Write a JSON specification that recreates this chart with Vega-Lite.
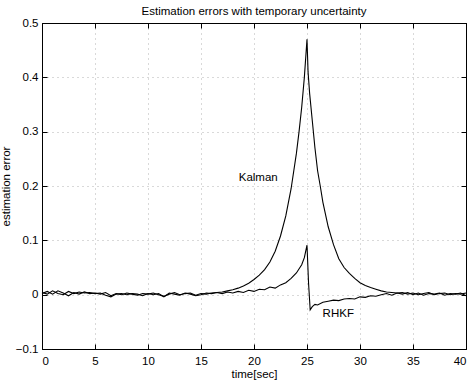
{
  "$schema": "https://vega.github.io/schema/vega-lite/v6.json",
  "autosize": "none",
  "width": 424,
  "height": 326,
  "padding": {"left": 42, "top": 23, "right": 8, "bottom": 32},
  "background": "white",
  "config": {
    "view": {"stroke": "black", "strokeWidth": 1},
    "font": "Liberation Sans",
    "axis": {
      "domainColor": "black",
      "tickColor": "black",
      "tickSize": -5,
      "labelColor": "black",
      "labelFontSize": 11.5,
      "labelFont": "Liberation Sans",
      "titleFont": "Liberation Sans",
      "titleFontSize": 11.5,
      "titleFontWeight": "normal",
      "titleColor": "black",
      "gridColor": "#a0a0a0",
      "gridDash": [1, 4],
      "gridWidth": 0.8
    },
    "title": {"font": "Liberation Sans", "fontSize": 11.5, "fontWeight": "normal", "color": "black"}
  },
  "title": {"text": "Estimation errors with temporary uncertainty", "offset": 0},
  "datasets": {
    "series": [
      {"t":0,"v":0.002,"s":"Kalman"},{"t":0.5,"v":0.006,"s":"Kalman"},{"t":1,"v":0.001,"s":"Kalman"},{"t":1.5,"v":0.007,"s":"Kalman"},{"t":2,"v":0.003,"s":"Kalman"},{"t":2.5,"v":-0.002,"s":"Kalman"},{"t":3,"v":0.004,"s":"Kalman"},{"t":3.5,"v":0.001,"s":"Kalman"},{"t":4,"v":0.005,"s":"Kalman"},{"t":4.5,"v":0.002,"s":"Kalman"},{"t":5,"v":0.003,"s":"Kalman"},{"t":5.5,"v":0.001,"s":"Kalman"},{"t":6,"v":0.004,"s":"Kalman"},{"t":6.5,"v":-0.002,"s":"Kalman"},{"t":7,"v":0.002,"s":"Kalman"},{"t":7.5,"v":0.0,"s":"Kalman"},{"t":8,"v":0.003,"s":"Kalman"},{"t":8.5,"v":0.001,"s":"Kalman"},{"t":9,"v":-0.001,"s":"Kalman"},{"t":9.5,"v":0.002,"s":"Kalman"},{"t":10,"v":0.001,"s":"Kalman"},{"t":10.5,"v":0.003,"s":"Kalman"},{"t":11,"v":0.0,"s":"Kalman"},{"t":11.5,"v":-0.003,"s":"Kalman"},{"t":12,"v":0.001,"s":"Kalman"},{"t":12.5,"v":0.004,"s":"Kalman"},{"t":13,"v":0.0,"s":"Kalman"},{"t":13.5,"v":0.002,"s":"Kalman"},{"t":14,"v":0.003,"s":"Kalman"},{"t":14.5,"v":-0.001,"s":"Kalman"},{"t":15,"v":0.002,"s":"Kalman"},{"t":15.5,"v":0.001,"s":"Kalman"},{"t":16,"v":0.003,"s":"Kalman"},{"t":16.5,"v":0.004,"s":"Kalman"},{"t":17,"v":0.005,"s":"Kalman"},{"t":17.5,"v":0.007,"s":"Kalman"},{"t":18,"v":0.009,"s":"Kalman"},{"t":18.5,"v":0.012,"s":"Kalman"},{"t":19,"v":0.016,"s":"Kalman"},{"t":19.5,"v":0.021,"s":"Kalman"},{"t":20,"v":0.028,"s":"Kalman"},{"t":20.5,"v":0.036,"s":"Kalman"},{"t":21,"v":0.046,"s":"Kalman"},{"t":21.5,"v":0.06,"s":"Kalman"},{"t":22,"v":0.08,"s":"Kalman"},{"t":22.5,"v":0.108,"s":"Kalman"},{"t":23,"v":0.145,"s":"Kalman"},{"t":23.5,"v":0.195,"s":"Kalman"},{"t":24,"v":0.26,"s":"Kalman"},{"t":24.25,"v":0.3,"s":"Kalman"},{"t":24.5,"v":0.345,"s":"Kalman"},{"t":24.75,"v":0.4,"s":"Kalman"},{"t":25,"v":0.47,"s":"Kalman"},{"t":25.1,"v":0.41,"s":"Kalman"},{"t":25.25,"v":0.37,"s":"Kalman"},{"t":25.5,"v":0.32,"s":"Kalman"},{"t":25.75,"v":0.27,"s":"Kalman"},{"t":26,"v":0.228,"s":"Kalman"},{"t":26.25,"v":0.2,"s":"Kalman"},{"t":26.5,"v":0.17,"s":"Kalman"},{"t":27,"v":0.125,"s":"Kalman"},{"t":27.5,"v":0.092,"s":"Kalman"},{"t":28,"v":0.066,"s":"Kalman"},{"t":28.5,"v":0.05,"s":"Kalman"},{"t":29,"v":0.039,"s":"Kalman"},{"t":29.5,"v":0.03,"s":"Kalman"},{"t":30,"v":0.022,"s":"Kalman"},{"t":30.5,"v":0.017,"s":"Kalman"},{"t":31,"v":0.013,"s":"Kalman"},{"t":31.5,"v":0.01,"s":"Kalman"},{"t":32,"v":0.007,"s":"Kalman"},{"t":32.5,"v":0.005,"s":"Kalman"},{"t":33,"v":0.004,"s":"Kalman"},{"t":33.5,"v":0.003,"s":"Kalman"},{"t":34,"v":0.004,"s":"Kalman"},{"t":34.5,"v":0.001,"s":"Kalman"},{"t":35,"v":0.003,"s":"Kalman"},{"t":35.5,"v":0.0,"s":"Kalman"},{"t":36,"v":0.002,"s":"Kalman"},{"t":36.5,"v":0.004,"s":"Kalman"},{"t":37,"v":0.0,"s":"Kalman"},{"t":37.5,"v":0.002,"s":"Kalman"},{"t":38,"v":0.003,"s":"Kalman"},{"t":38.5,"v":0.0,"s":"Kalman"},{"t":39,"v":0.002,"s":"Kalman"},{"t":39.5,"v":0.001,"s":"Kalman"},{"t":40,"v":0.003,"s":"Kalman"},
      {"t":0,"v":0.004,"s":"RHKF"},{"t":0.5,"v":0.001,"s":"RHKF"},{"t":1,"v":0.007,"s":"RHKF"},{"t":1.5,"v":0.002,"s":"RHKF"},{"t":2,"v":0.0,"s":"RHKF"},{"t":2.5,"v":0.006,"s":"RHKF"},{"t":3,"v":0.002,"s":"RHKF"},{"t":3.5,"v":0.005,"s":"RHKF"},{"t":4,"v":0.003,"s":"RHKF"},{"t":4.5,"v":0.004,"s":"RHKF"},{"t":5,"v":0.002,"s":"RHKF"},{"t":5.5,"v":0.003,"s":"RHKF"},{"t":6,"v":-0.001,"s":"RHKF"},{"t":6.5,"v":-0.004,"s":"RHKF"},{"t":7,"v":0.001,"s":"RHKF"},{"t":7.5,"v":0.002,"s":"RHKF"},{"t":8,"v":0.0,"s":"RHKF"},{"t":8.5,"v":0.002,"s":"RHKF"},{"t":9,"v":0.001,"s":"RHKF"},{"t":9.5,"v":-0.002,"s":"RHKF"},{"t":10,"v":0.002,"s":"RHKF"},{"t":10.5,"v":0.0,"s":"RHKF"},{"t":11,"v":0.002,"s":"RHKF"},{"t":11.5,"v":-0.004,"s":"RHKF"},{"t":12,"v":0.003,"s":"RHKF"},{"t":12.5,"v":0.001,"s":"RHKF"},{"t":13,"v":-0.001,"s":"RHKF"},{"t":13.5,"v":0.003,"s":"RHKF"},{"t":14,"v":0.001,"s":"RHKF"},{"t":14.5,"v":-0.002,"s":"RHKF"},{"t":15,"v":0.0,"s":"RHKF"},{"t":15.5,"v":0.003,"s":"RHKF"},{"t":16,"v":0.002,"s":"RHKF"},{"t":16.5,"v":0.004,"s":"RHKF"},{"t":17,"v":0.002,"s":"RHKF"},{"t":17.5,"v":0.005,"s":"RHKF"},{"t":18,"v":0.003,"s":"RHKF"},{"t":18.5,"v":0.006,"s":"RHKF"},{"t":19,"v":0.004,"s":"RHKF"},{"t":19.5,"v":0.008,"s":"RHKF"},{"t":20,"v":0.006,"s":"RHKF"},{"t":20.5,"v":0.01,"s":"RHKF"},{"t":21,"v":0.009,"s":"RHKF"},{"t":21.5,"v":0.014,"s":"RHKF"},{"t":22,"v":0.012,"s":"RHKF"},{"t":22.5,"v":0.018,"s":"RHKF"},{"t":23,"v":0.022,"s":"RHKF"},{"t":23.5,"v":0.03,"s":"RHKF"},{"t":24,"v":0.04,"s":"RHKF"},{"t":24.5,"v":0.055,"s":"RHKF"},{"t":24.75,"v":0.068,"s":"RHKF"},{"t":25,"v":0.091,"s":"RHKF"},{"t":25.15,"v":0.02,"s":"RHKF"},{"t":25.3,"v":-0.028,"s":"RHKF"},{"t":25.5,"v":-0.022,"s":"RHKF"},{"t":25.75,"v":-0.018,"s":"RHKF"},{"t":26,"v":-0.019,"s":"RHKF"},{"t":26.5,"v":-0.014,"s":"RHKF"},{"t":27,"v":-0.012,"s":"RHKF"},{"t":27.5,"v":-0.01,"s":"RHKF"},{"t":28,"v":-0.011,"s":"RHKF"},{"t":28.5,"v":-0.008,"s":"RHKF"},{"t":29,"v":-0.007,"s":"RHKF"},{"t":29.5,"v":-0.008,"s":"RHKF"},{"t":30,"v":-0.004,"s":"RHKF"},{"t":30.5,"v":-0.005,"s":"RHKF"},{"t":31,"v":-0.002,"s":"RHKF"},{"t":31.5,"v":-0.003,"s":"RHKF"},{"t":32,"v":0.0,"s":"RHKF"},{"t":32.5,"v":0.002,"s":"RHKF"},{"t":33,"v":-0.001,"s":"RHKF"},{"t":33.5,"v":0.003,"s":"RHKF"},{"t":34,"v":0.001,"s":"RHKF"},{"t":34.5,"v":0.004,"s":"RHKF"},{"t":35,"v":0.0,"s":"RHKF"},{"t":35.5,"v":0.003,"s":"RHKF"},{"t":36,"v":-0.001,"s":"RHKF"},{"t":36.5,"v":0.002,"s":"RHKF"},{"t":37,"v":0.001,"s":"RHKF"},{"t":37.5,"v":0.003,"s":"RHKF"},{"t":38,"v":-0.001,"s":"RHKF"},{"t":38.5,"v":0.002,"s":"RHKF"},{"t":39,"v":0.001,"s":"RHKF"},{"t":39.5,"v":0.003,"s":"RHKF"},{"t":40,"v":-0.002,"s":"RHKF"}
    ],
    "labels": [
      {"t": 20.4, "v": 0.214, "label": "Kalman"},
      {"t": 27.95, "v": -0.035, "label": "RHKF"}
    ]
  },
  "layer": [
    {
      "data": {"name": "series"},
      "mark": {"type": "line", "color": "black", "strokeWidth": 1.1},
      "encoding": {
        "x": {"field": "t", "type": "quantitative", "scale": {"domain": [0, 40], "nice": false},
              "axis": {"orient": "bottom", "values": [0,5,10,15,20,25,30,35,40], "title": "time[sec]", "labelPadding": 11, "titlePadding": 2}},
        "y": {"field": "v", "type": "quantitative", "scale": {"domain": [-0.1, 0.5], "nice": false},
              "axis": {"orient": "left", "values": [-0.1,0,0.1,0.2,0.3,0.4,0.5], "format": "~g", "title": "estimation error", "labelPadding": 9, "titlePadding": 4}},
        "detail": {"field": "s", "type": "nominal"}
      }
    },
    {
      "data": {"name": "labels"},
      "mark": {"type": "text", "color": "black", "fontSize": 11.5, "font": "Liberation Sans"},
      "encoding": {
        "x": {"field": "t", "type": "quantitative",
              "axis": {"orient": "top", "values": [0,5,10,15,20,25,30,35,40], "labels": false, "title": null, "grid": false}},
        "y": {"field": "v", "type": "quantitative",
              "axis": {"orient": "right", "values": [-0.1,0,0.1,0.2,0.3,0.4,0.5], "labels": false, "title": null, "grid": false}},
        "text": {"field": "label"}
      }
    }
  ],
  "resolve": {"axis": {"x": "independent", "y": "independent"}}
}
